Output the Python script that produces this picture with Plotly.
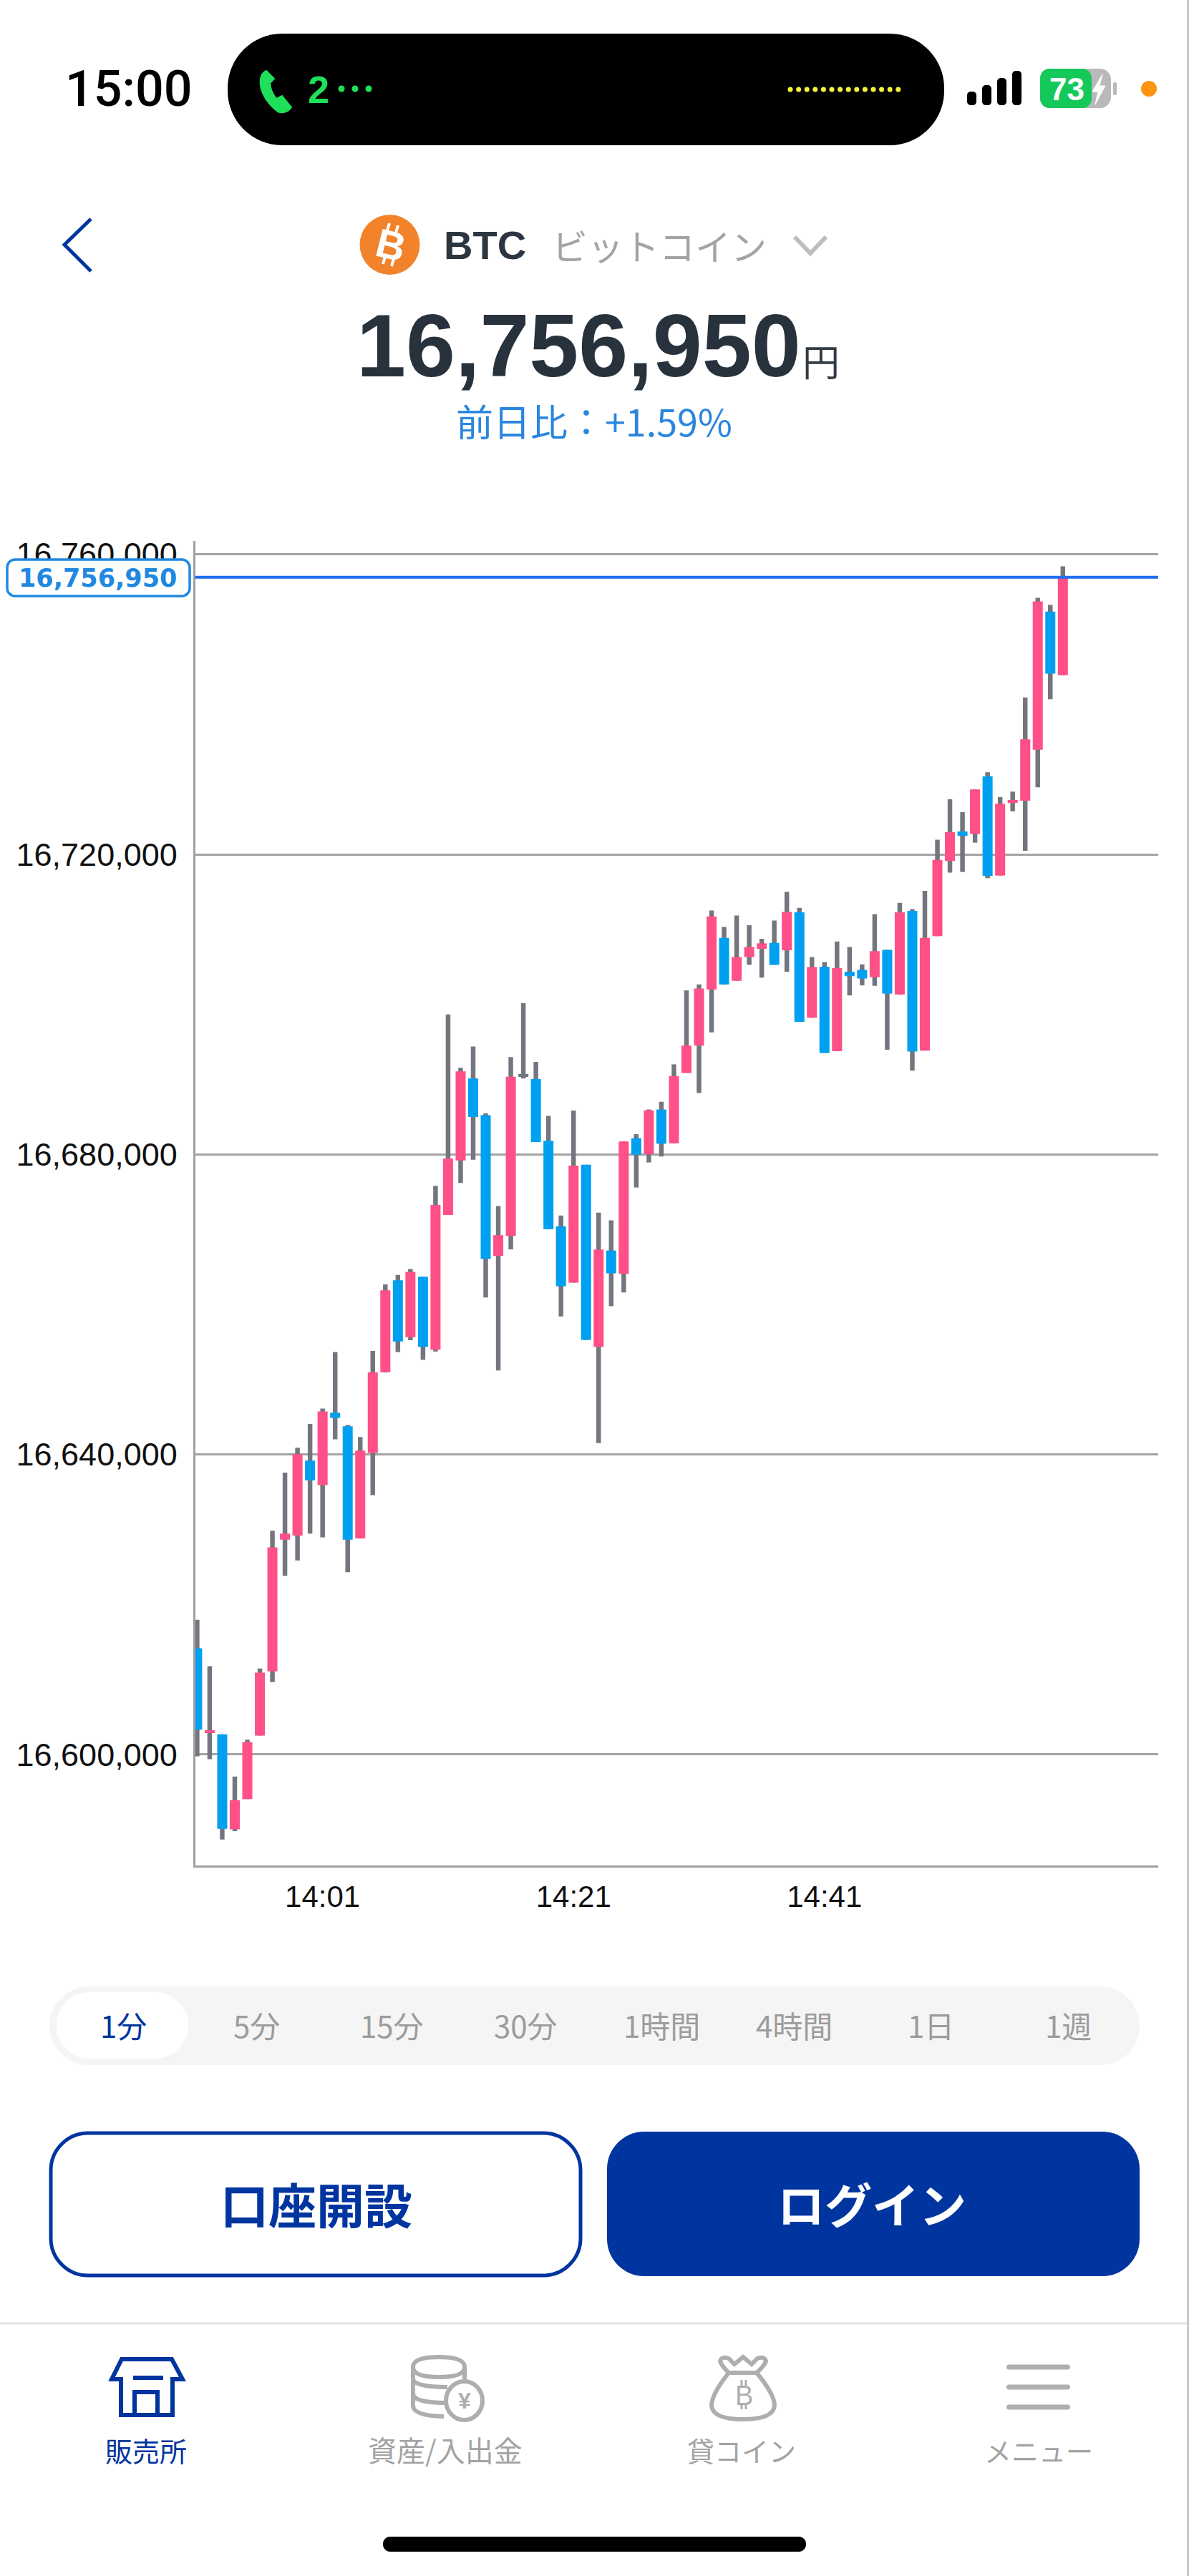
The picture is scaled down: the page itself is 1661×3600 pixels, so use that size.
import plotly.graph_objects as go

# 1 minute candles, 13:51 to 15:00
times = ["13:%02d" % m for m in range(51, 60)] + ["14:%02d" % m for m in range(0, 60)] + ["15:00"]

opens = [
    16614160, 16602850, 16602690, 16590030, 16594070, 16602530, 16611080, 16628640, 16629200, 16639170,
    16635920, 16645580, 16643760, 16628800, 16640200, 16650960, 16663220, 16655630, 16663700, 16653970,
    16671930, 16679210, 16690130, 16685220, 16666470, 16669160, 16690330, 16690050, 16681820, 16670420,
    16662910, 16678630, 16654350, 16667190, 16664090, 16682160, 16680030, 16685990, 16681490, 16690860,
    16694510, 16701990, 16708870, 16703150, 16706310, 16707410, 16708200, 16707220, 16712270, 16698220,
    16705030, 16693780, 16704360, 16704610, 16703630, 16707280, 16701320, 16712460, 16693840, 16709100,
    16719120, 16723060, 16722720, 16730410, 16717180, 16726860, 16727150, 16733960, 16752360, 16743890,
]
highs = [
    16617960, 16611790, 16602690, 16597070, 16601980, 16611470, 16629830, 16637590, 16640910, 16644070,
    16646130, 16653650, 16643920, 16642330, 16653810, 16662670, 16663940, 16664730, 16663700, 16675810,
    16698670, 16691550, 16694400, 16685460, 16673120, 16692980, 16700180, 16692340, 16685140, 16671850,
    16685860, 16678630, 16672240, 16671210, 16681730, 16682700, 16685990, 16687020, 16692010, 16701870,
    16702660, 16712520, 16710330, 16711850, 16710570, 16708740, 16711180, 16715010, 16712880, 16706310,
    16705640, 16708380, 16707650, 16705340, 16712030, 16707280, 16713550, 16712700, 16715130, 16721950,
    16727350, 16725640, 16728660, 16730950, 16727640, 16728370, 16740920, 16754210, 16753280, 16758390,
]
lows = [
    16599760, 16599370, 16588680, 16589790, 16594070, 16602530, 16609650, 16623820, 16625880, 16629440,
    16628960, 16642020, 16624290, 16628800, 16634580, 16650960, 16653650, 16655230, 16652620, 16653730,
    16671930, 16676200, 16679290, 16660930, 16651200, 16667340, 16690130, 16681660, 16670030, 16658400,
    16662910, 16655270, 16641520, 16659770, 16661590, 16675590, 16678930, 16679720, 16681490, 16690860,
    16688180, 16696270, 16702660, 16703150, 16705280, 16703570, 16705280, 16704360, 16697670, 16698220,
    16693530, 16693780, 16701200, 16702540, 16702480, 16693960, 16701320, 16691160, 16693840, 16709100,
    16717570, 16717660, 16721560, 16716840, 16717180, 16725740, 16720490, 16728950, 16740680, 16743890,
]
closes = [
    16603320, 16603080, 16590110, 16593910, 16601660, 16610920, 16627620, 16629440, 16640040, 16636560,
    16645740, 16644870, 16628640, 16640510, 16650960, 16661880, 16655070, 16664330, 16654360, 16673270,
    16679450, 16691080, 16684990, 16666070, 16669240, 16690370, 16690330, 16681660, 16670030, 16662430,
    16678500, 16655270, 16667310, 16664150, 16681730, 16679970, 16685870, 16681430, 16690430, 16694510,
    16702110, 16711730, 16702660, 16706310, 16707650, 16708140, 16705280, 16712330, 16697670, 16704970,
    16693530, 16704850, 16703760, 16703450, 16707100, 16701440, 16712270, 16693720, 16708870, 16719270,
    16722970, 16722480, 16728660, 16717130, 16726760, 16727250, 16735330, 16753720, 16744090, 16756950,
]
price_ticks = [16600000, 16640000, 16680000, 16720000, 16760000]
price_labels = ["16,600,000", "16,640,000", "16,680,000", "16,720,000", "16,760,000"]
time_ticks = ["14:01", "14:21", "14:41"]
intervals = ["1分", "5分", "15分", "30分", "1時間", "4時間", "1日", "1週"]
interval_x = [172, 358, 547, 734, 924, 1109, 1300, 1492]
nav_labels = ["販売所", "資産/入出金", "貸コイン", "メニュー"]
nav_x = [204, 622, 1036, 1451]

PINK = "#FF5088"
BLUE = "#00A0F0"
WICK = "#74767F"
NAVY = "#0035A0"
GREY = "#A6A6A6"
JP = "Noto Sans CJK JP"
LATIN = "Liberation Sans"

idx = list(range(len(times)))
body_base = [min(o, c) for o, c in zip(opens, closes)]
body_height = [max(abs(c - o), 400) for o, c in zip(opens, closes)]
body_color = [PINK if c > o else BLUE if c < o else WICK for o, c in zip(opens, closes)]

fig = go.Figure()
fig.add_trace(go.Bar(x=idx, y=[h - l for h, l in zip(highs, lows)], base=lows, width=0.37,
                     marker=dict(color=WICK, line_width=0), hoverinfo="skip"))
fig.add_trace(go.Bar(x=idx, y=body_height, base=body_base, width=0.8,
                     marker=dict(color=body_color, line_width=0), customdata=times))


def rrect(x0, y0, x1, y1, r):
    k = r * 0.45
    return (f"M{x0+r},{y0} L{x1-r},{y0} C{x1-k},{y0} {x1},{y0+k} {x1},{y0+r} L{x1},{y1-r} "
            f"C{x1},{y1-k} {x1-k},{y1} {x1-r},{y1} L{x0+r},{y1} C{x0+k},{y1} {x0},{y1-k} {x0},{y1-r} "
            f"L{x0},{y0+r} C{x0},{y0+k} {x0+k},{y0} {x0+r},{y0} Z")


shapes = []
annots = []


def box(x0, y0, x1, y1, r, fill, line=None, lw=0):
    shapes.append(dict(type="path", xref="x2", yref="y2", path=rrect(x0, y0, x1, y1, r), fillcolor=fill,
                       line=dict(color=line or fill, width=lw)))


def stroke(path, color, lw, fill="rgba(0,0,0,0)"):
    shapes.append(dict(type="path", xref="x2", yref="y2", path=path, fillcolor=fill,
                       line=dict(color=color, width=lw)))


def dot(cx, cy, r, fill, line=None, lw=0):
    shapes.append(dict(type="circle", xref="x2", yref="y2", x0=cx-r, x1=cx+r, y0=cy-r, y1=cy+r,
                       fillcolor=fill, line=dict(color=line or fill, width=lw)))


def label(x, y, s, size, color, family=JP, weight=400, angle=0, anchor="center"):
    annots.append(dict(xref="x2", yref="y2", x=x, y=y, text=s, showarrow=False, xanchor=anchor, yanchor="middle",
                       textangle=angle, font=dict(family=family, size=size, color=color, weight=weight)))


# status bar
label(180, 124, "15:00", 70, "#000000", "Roboto", 500)
box(318, 47, 1319, 203, 76, "#000000")
stroke("M372,99 Q362,104 364,120 Q368,140 388,156 Q400,160 407,150 L394,134 L386,138 Q378,128 377,116 L383,110 Z",
       "#1FE05A", 2, "#1FE05A")
label(445, 125, "2", 54, "#1FE05A", LATIN, 700)
for cx in [477, 496, 515]:
    dot(cx, 124, 4.5, "#1FE05A")
for k in range(14):
    dot(1104 + k * 11.6, 125, 3.5, "#F4F43C")
for k, top in enumerate([128, 119, 109, 99]):
    box(1351 + k * 21, top, 1364 + k * 21, 147, 5, "#000000")
box(1453, 96, 1552, 151, 15, "#B9B9B9")
box(1453, 96, 1525, 151, 13, "#14C95A")
box(1555, 115, 1560, 133, 2, "#B9B9B9")
label(1490, 124, "73", 44, "#FFFFFF", LATIN, 700)
stroke("M1540,104 L1526,128 L1534,128 L1530,146 L1544,120 L1536,120 Z", "#FFFFFF", 1, "#FFFFFF")
dot(1605, 124, 11, "#FF9410")

# header
stroke("M127,306 L90,342 L127,379", NAVY, 5)
dot(544.5, 342, 42, "#F2832A")
label(546, 342, "B", 56, "#FFFFFF", LATIN, 700, 14)
stroke("M544,312 L541,322 M556,315 L553,325 M538,359 L535,369 M550,362 L547,372", "#FFFFFF", 4)
label(677, 342, "BTC", 56, "#2B3640", LATIN, 700)
label(921, 342, "ビットコイン", 50, "#A3A3A3")
stroke("M1110,331 L1132,354 L1154,331", "#BDBDBD", 6)
label(496, 483, "16,756,950", 124, "#28323C", LATIN, 700, anchor="left")
label(1147, 503, "円", 52, "#333B44")
label(830, 587, "前日比：+1.59%", 52, "#2B86E0")

# price tag on the axis
shapes.append(dict(type="line", xref="x", yref="y", x0=-0.165, x1=76.6, y0=closes[-1], y1=closes[-1],
                   line=dict(color="#1E70EA", width=4)))
box(10, 782, 265, 833, 11, "#FFFFFF", "#2088E0", 3.5)
label(136.5, 808, "16,756,950", 35, "#2088E0", "DejaVu Sans", 700)

# interval tabs
box(69, 2776, 1592, 2886, 55, "#F5F5F5")
box(79, 2784, 263, 2877, 46, "#FFFFFF")
for k, (name, cx) in enumerate(zip(intervals, interval_x)):
    label(cx, 2829, name, 42, NAVY if k == 0 else "#9C9C9C")

# buttons
box(71, 2981, 811, 3180, 52, "#FFFFFF", NAVY, 5)
box(848, 2979, 1592, 3181, 52, NAVY)
label(442, 3078, "口座開設", 67, NAVY, JP, 700)
label(1218, 3078, "ログイン", 66, "#FFFFFF", JP, 700)

# bottom nav
shapes.append(dict(type="line", xref="x2", yref="y2", x0=0, x1=1661, y0=3247, y1=3247,
                   line=dict(color="#E4E4E4", width=3)))
shapes.append(dict(type="line", xref="x2", yref="y2", x0=1659.5, x1=1659.5, y0=0, y1=3600,
                   line=dict(color="#C8C8C8", width=3)))
for k, (name, cx) in enumerate(zip(nav_labels, nav_x)):
    label(cx, 3423, name, 40 if k == 1 else 38, NAVY if k == 0 else "#A3A3A3")
stroke("M169,3325 L156,3325 L170,3297 L240,3297 L255,3325 L241,3325 L241,3375 L169,3375 Z", NAVY, 6)
stroke("M188,3375 L188,3343 L220,3343 L220,3375", NAVY, 6)
stroke("M186,3323 L228,3323", NAVY, 6)
for yy in [3308, 3336, 3364]:
    box(1406, yy - 3.5, 1495, yy + 3.5, 3, "#B0B0B0")
stroke("M577,3308 Q577,3294 613,3294 Q649,3294 649,3308 L649,3328 M577,3308 L577,3362 Q577,3376 620,3377 "
       "M577,3308 Q577,3322 613,3322 Q649,3322 649,3308 M577,3324 Q577,3336 625,3336 M577,3345 Q577,3358 622,3358",
       "#AEAEAE", 6)
shapes.append(dict(type="circle", xref="x2", yref="y2", x0=623, x1=674, y0=3328, y1=3382,
                   fillcolor="#FFFFFF", line=dict(color="#AEAEAE", width=6)))
label(648.5, 3355, "¥", 32, "#AEAEAE", LATIN, 700)
stroke("M1018,3316 Q1008,3306 1006,3300 Q1008,3292 1018,3296 L1026,3304 L1038,3294 L1050,3304 L1058,3296 "
       "Q1068,3292 1070,3300 Q1068,3306 1057,3316 Z", "#AEAEAE", 6)
stroke("M1018,3316 Q994,3346 994,3362 Q996,3381 1038,3381 Q1080,3381 1082,3362 Q1082,3346 1057,3316", "#AEAEAE", 6)
label(1039, 3348, "B", 38, "#AEAEAE", LATIN, 400)
stroke("M1036,3326 L1036,3334 M1042,3326 L1042,3334 M1036,3360 L1036,3367 M1042,3360 L1042,3367", "#AEAEAE", 3)
box(535, 3545, 1126, 3566, 10, "#000000")

fig.update_layout(
    width=1661, height=3600, margin=dict(l=0, r=0, t=0, b=0), showlegend=False,
    paper_bgcolor="#FFFFFF", plot_bgcolor="rgba(0,0,0,0)", barmode="overlay",
    shapes=shapes, annotations=annots,
    xaxis=dict(domain=[272.5 / 1661, 1618 / 1661], range=[-0.165, 76.6], tickmode="array", automargin=False,
               tickvals=[times.index(t) for t in time_ticks], ticktext=time_ticks,
               showgrid=False, zeroline=False, showline=True, linecolor="#A0A0A0", linewidth=2.5,
               ticks="outside", ticklen=5, tickcolor="rgba(0,0,0,0)",
               tickfont=dict(family=LATIN, size=42, color="#111111")),
    yaxis=dict(domain=[1 - 2607 / 3600, 1 - 756 / 3600], range=[16585213, 16761784], tickmode="array",
               automargin=False, tickvals=price_ticks, ticktext=price_labels,
               showgrid=True, gridcolor="#A3A3A3", gridwidth=2.5,
               zeroline=False, showline=True, linecolor="#A0A0A0", linewidth=2.5,
               ticks="outside", ticklen=13, tickcolor="rgba(0,0,0,0)",
               tickfont=dict(family=LATIN, size=45, color="#111111")),
    xaxis2=dict(domain=[0, 1], range=[0, 1661], visible=False, anchor="y2", automargin=False),
    yaxis2=dict(domain=[0, 1], range=[3600, 0], visible=False, anchor="x2", automargin=False),
)

# pin the graph to the page corner so its pixels line up with the window
pin = ("document.body.style.margin='0';"
       "var d=document.getElementById('{plot_id}');"
       "d.style.position='absolute';d.style.top='0';d.style.left='0';")
fig.write_html("out.html", config=dict(displayModeBar=False), post_script=pin)
